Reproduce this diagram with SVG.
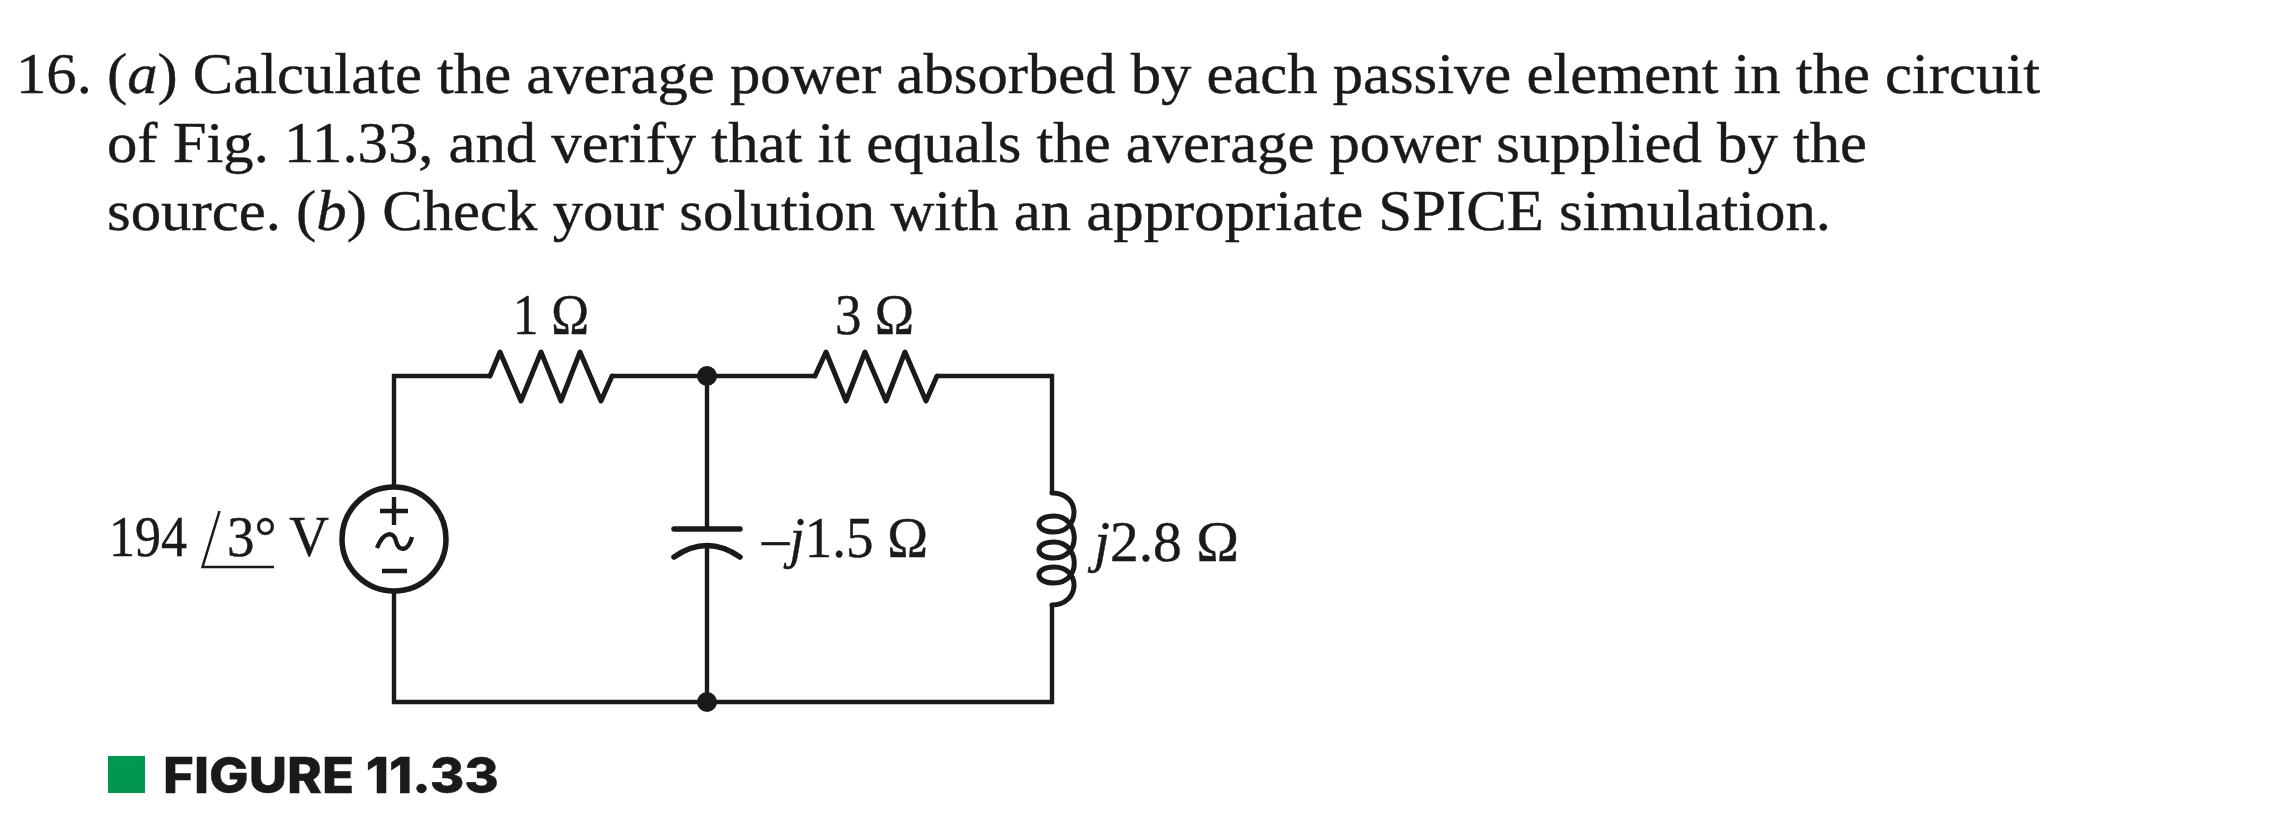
<svg xmlns="http://www.w3.org/2000/svg" width="2280" height="828" viewBox="0 0 2280 828">
<style>
text{font-family:"Liberation Serif","Times New Roman",serif;fill:#1a1a1a;font-size:58px;stroke:#1a1a1a;stroke-width:.4}
.i{font-style:italic}
.w{fill:none;stroke:#1a1a1a;stroke-width:4.4}
.t{fill:none;stroke:#1a1a1a;stroke-width:5.5;stroke-linecap:round;stroke-linejoin:round}
.l{font-size:58px}
.d{fill:#1a1a1a}
</style>
<rect width="2280" height="828" fill="#fff"/>
<g id="problem">
<text x="16" y="93" textLength="2024" lengthAdjust="spacingAndGlyphs">16. (<tspan class="i">a</tspan>) Calculate the average power absorbed by each passive element in the circuit</text>
<text x="107" y="162" textLength="1760" lengthAdjust="spacingAndGlyphs">of Fig. 11.33, and verify that it equals the average power supplied by the</text>
<text x="107" y="230" textLength="1724" lengthAdjust="spacingAndGlyphs">source. (<tspan class="i">b</tspan>) Check your solution with an appropriate SPICE simulation.</text>
</g>
<g id="connectors">
<path class="w" d="M394 485V376H490M612 376H815M937 376H1052V493M1052 605V702H394V593M707 376V529M707 546V702"/>
</g>
<g id="r1">
<path class="t" style="stroke-width:5" d="M490 376L500 352L521 401L541 352L561 401L580 352L601 401L612 376"/>
<text class="l" x="513" y="334" textLength="76" lengthAdjust="spacingAndGlyphs">1 Ω</text>
</g>
<g id="r2">
<path class="t" style="stroke-width:5" d="M815 376L826 352L846 401L865 352L886 401L905 352L926 401L937 376"/>
<text class="l" x="835" y="334" textLength="79" lengthAdjust="spacingAndGlyphs">3 Ω</text>
</g>
<g id="source">
<circle cx="394" cy="539" r="52" fill="none" stroke="#1a1a1a" stroke-width="5.5"/>
<path class="w" d="M380 511H408M394 497V525M382 571H407"/>
<path class="w" d="M377 548C384 530 394 532 396 541C399 552 408 552 412 537"/>
<text class="l" x="109" y="556" textLength="78" lengthAdjust="spacingAndGlyphs">194</text>
<path fill="none" stroke="#1a1a1a" stroke-width="2.5" d="M219.5 511L202.5 567H274"/>
<text class="l" x="227" y="556" textLength="102" lengthAdjust="spacingAndGlyphs">3° V</text>
</g>
<g id="capacitor">
<path class="t" d="M674 529H740M674 557Q707 534 740 557"/>
<text class="l" x="762" y="557" textLength="166" lengthAdjust="spacingAndGlyphs">–<tspan class="i">j</tspan>1.5 Ω</text>
</g>
<g id="inductor">
<path class="t" style="stroke-width:5" d="M1052 493C1082 493 1080 532 1054 532C1034 532 1034 516 1054 516C1080 516 1082 558 1054 558C1034 558 1034 542 1054 542C1080 542 1082 583 1054 583C1034 583 1034 567 1054 567C1082 567 1080 605 1052 605"/>
<text class="l" x="1094" y="561" textLength="145" lengthAdjust="spacingAndGlyphs"><tspan class="i">j</tspan>2.8 Ω</text>
</g>
<g id="junction-top"><circle class="d" cx="707" cy="376" r="10"/></g>
<g id="junction-bottom"><circle class="d" cx="707" cy="702" r="10"/></g>
<g id="caption">
<rect x="108" y="756" width="37" height="37" fill="#00984f"/>
<text x="163" y="793" textLength="336" lengthAdjust="spacingAndGlyphs" style="font-family:Inter,'Liberation Sans',sans-serif;font-weight:800;font-size:50px">FIGURE 11.33</text>
</g>
</svg>
